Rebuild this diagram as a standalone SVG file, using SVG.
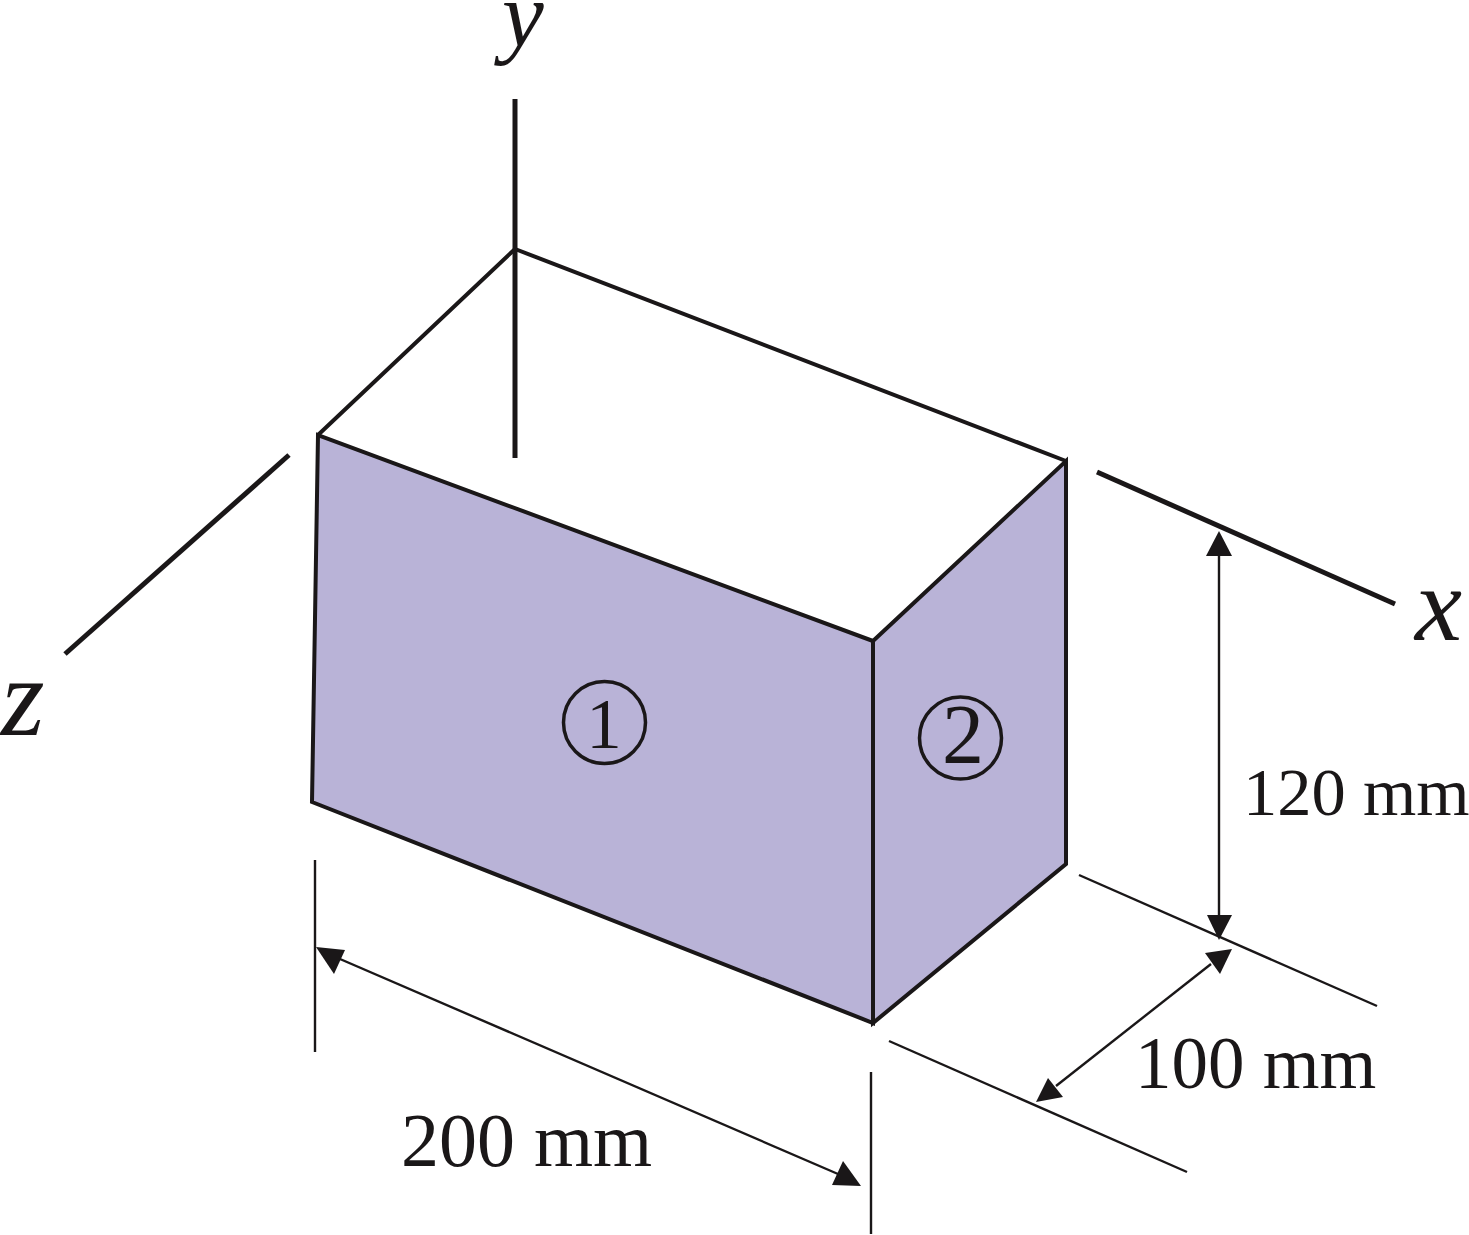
<svg xmlns="http://www.w3.org/2000/svg" width="1469" height="1235" viewBox="0 0 1469 1235">
<style>
.face{fill:#b9b3d7;stroke:#1a1718;stroke-width:4;stroke-linejoin:miter}
.edge{fill:none;stroke:#1a1718;stroke-width:4}
.axis{fill:none;stroke:#1a1718;stroke-width:5}
.thin{fill:none;stroke:#1a1718;stroke-width:2.4}
.head{fill:#1a1718;stroke:none}
text{font-family:"Liberation Serif","Times New Roman",serif;fill:#1a1718}
.ax{font-style:italic}
.num{text-anchor:middle}
.circ{fill:none;stroke:#1a1718;stroke-width:3.5}
</style>
<rect width="1469" height="1235" fill="#ffffff"/>
<g id="box">
<path class="face" d="M318 435L873 641L873 1023L312 802Z"/>
<path class="face" d="M873 641L1066 461L1066 864L873 1023Z"/>
<path class="edge" d="M318 435L515 249L1066 461"/>
</g>
<g id="connectors">
<path class="axis" d="M515 99V458"/>
<path class="axis" d="M289 455L65 654"/>
<path class="axis" d="M1097 472L1395 604"/>
<path class="thin" d="M315 860V1052"/>
<path class="thin" d="M871 1072V1234"/>
<path class="thin" d="M1079 875L1377 1006"/>
<path class="thin" d="M889 1041L1187 1172"/>
<path class="thin" d="M1219 555V915"/>
<path class="thin" d="M340 959L838 1174"/>
<path class="thin" d="M1056 1086L1211 964"/>
<path class="head" d="M1219 531L1232 556L1206 556Z"/>
<path class="head" d="M1219 940L1207 915L1232 915Z"/>
<path class="head" d="M316 947L345 950L334 974Z"/>
<path class="head" d="M861 1186L832 1185L843 1161Z"/>
<path class="head" d="M1232 949L1220 974L1205 953Z"/>
<path class="head" d="M1036 1102L1048 1078L1063 1097Z"/>
</g>
<g id="label-y"><text class="ax" x="502" y="46" font-size="94">y</text></g>
<g id="label-z"><text class="ax" x="1" y="735" font-size="112">z</text></g>
<g id="label-x"><text class="ax" x="1415" y="640" font-size="106">x</text></g>
<g id="face-1"><circle class="circ" cx="604.5" cy="722.5" r="41"/><text class="num" x="604" y="748" font-size="71">1</text></g>
<g id="face-2"><circle class="circ" cx="960.5" cy="738" r="41"/><text class="num" x="963" y="763" font-size="84">2</text></g>
<g id="dim-120"><text x="1243" y="815" font-size="68.5">120 mm</text></g>
<g id="dim-100"><text x="1135" y="1088" font-size="73">100 mm</text></g>
<g id="dim-200"><text x="401" y="1166" font-size="76">200 mm</text></g>
</svg>
